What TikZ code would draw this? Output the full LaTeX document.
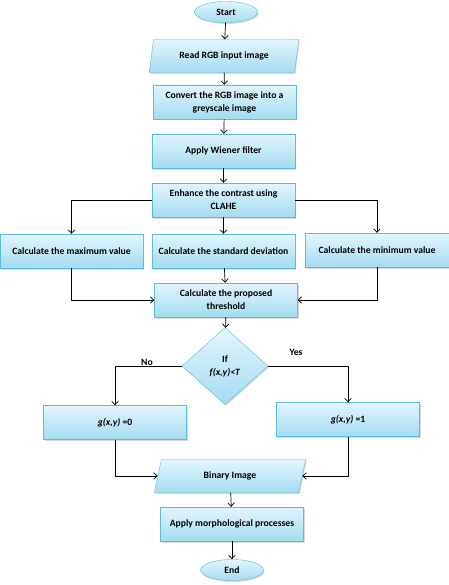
\documentclass[tikz,border=0pt]{standalone}
\usepackage{fontspec}
\setmainfont{Carlito}
\usetikzlibrary{shapes.geometric,shadows,arrows,arrows.meta,positioning}
\definecolor{boxtop}{HTML}{E2F5FC}
\definecolor{boxbot}{HTML}{A3DCF1}
\definecolor{boxline}{HTML}{5DBCDD}
\tikzset{
    block/.style={
        draw=boxline,
        top color=boxtop,
        bottom color=boxbot,
        drop shadow={shadow xshift=1bp,shadow yshift=-1.5bp,opacity=0.3},
        font=\fontsize{9.7}{13}\selectfont\bfseries,
        align=center,
        inner sep=1bp
    },
    process/.style={
        block,
        rectangle,
        minimum width=143bp,
        minimum height=34bp
    },
    io/.style={
        block,
        trapezium,
        trapezium left angle=75,
        trapezium right angle=105,
        trapezium stretches=true,
        minimum width=151bp,
        minimum height=33bp
    },
    terminal/.style={
        block,
        ellipse,
        minimum width=63bp,
        minimum height=21bp
    },
    decision/.style={
        block,
        diamond,
        minimum width=86bp,
        minimum height=77bp
    },
    arrow/.style={-{Straight Barb[length=3.5bp,width=6.5bp]},line width=0.7bp}
}

\begin{document}
\begin{tikzpicture}[x=1bp,y=-1bp]
  \useasboundingbox (0,0) rectangle (449,585);

  \node[terminal] (start) at (226,12) {Start};
  \node[io] (read) at (224,56) {Read RGB input image};
  \node[process] (conv) at (224.5,102) {Convert the RGB image into a\\greyscale image};
  \node[process] (wien) at (223.5,151) {Apply Wiener filter};
  \node[process] (enh) at (223.5,200) {Enhance the contrast using\\CLAHE};

  \node[process] (max) at (71.5,251) {Calculate the maximum value};
  \node[process] (std) at (223.5,251) {Calculate the standard deviation};
  \node[process, minimum width=144bp] (min) at (377,250) {Calculate the minimum value};

  \node[process] (thr) at (226,300) {Calculate the proposed\\threshold};
  \node[decision] (dec) at (225,366) {If\\\textit{f(x,y)<T}};
  \node[font=\fontsize{9.7}{12}\selectfont\bfseries] (no) at (147,362) {No};
  \node[font=\fontsize{9.7}{12}\selectfont\bfseries] (yes) at (296,352) {Yes};

  \node[process] (g0) at (115,422.5) {\textit{g(x,y)} =0};
  \node[process] (g1) at (348,419.5) {\textit{g(x,y)} =1};

  \node[io, minimum width=152bp] (bin) at (230,476) {Binary Image};
  \node[process] (morph) at (232,524) {Apply morphological processes};
  \node[terminal] (end) at (232,570) {End};

  % main chain
  \draw[arrow] (start) -- (read);
  \draw[arrow] (read) -- (conv);
  \draw[arrow] (conv) -- (wien);
  \draw[arrow] (wien) -- (enh);
  \draw[arrow] (enh) -- (std);
  \draw[arrow] (enh.west) -| (max.north);
  \draw[arrow] (enh.east) -| (min.north);
  \draw[arrow] (std) -- (thr);
  \draw[arrow] (max.south) |- (thr.west);
  \draw[arrow] (min.south) |- (thr.east);
  \draw[arrow] (thr) -- (dec);

  % branches
  \draw[arrow] (dec.west) -| (g0.north);
  \draw[arrow] (dec.east) -| (g1.north);
  \draw[arrow] (g0.south) |- (bin.west);
  \draw[arrow] (g1.south) |- (bin.east);
  \draw[arrow] (bin) -- (morph);
  \draw[arrow] (morph) -- (end);

\end{tikzpicture}
\end{document}
